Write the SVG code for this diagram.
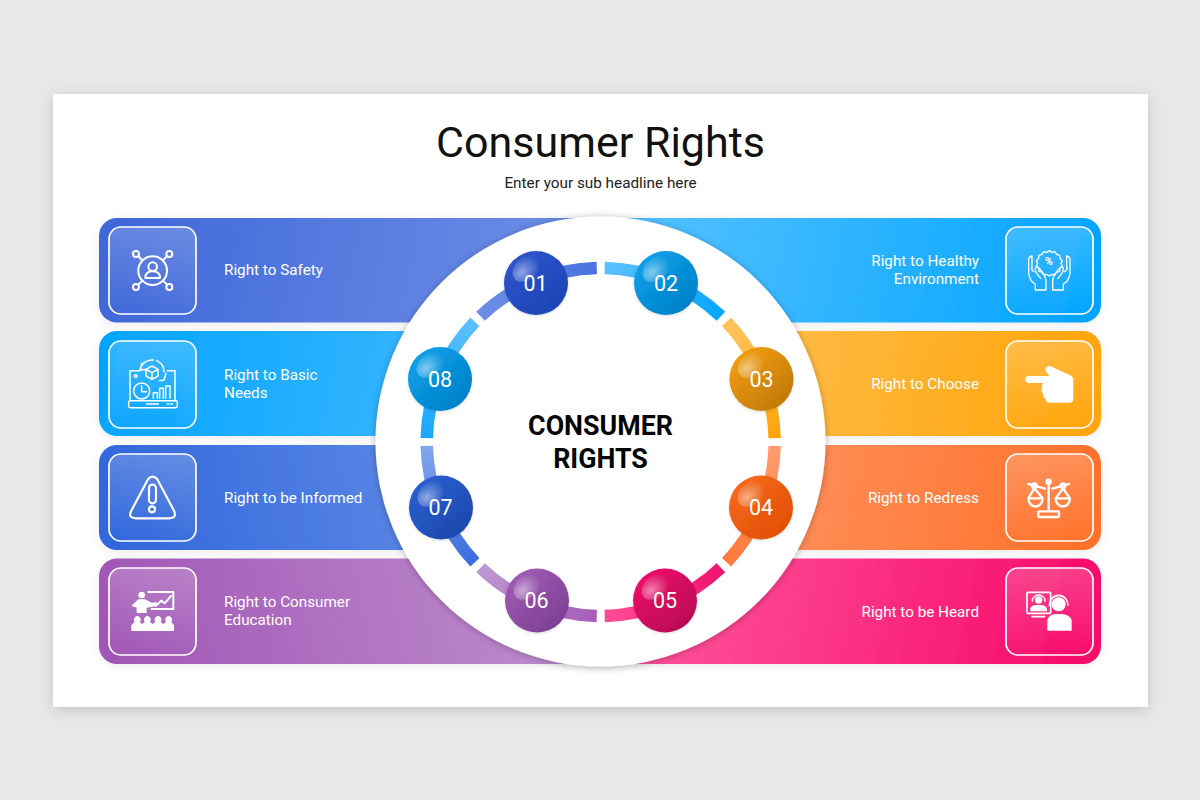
<svg xmlns="http://www.w3.org/2000/svg" width="1200" height="800" viewBox="0 0 1200 800">
<style>
text{font-family:Roboto,"Liberation Sans",sans-serif}
.lb{font-size:15.25px;fill:#fff}
.r{text-anchor:end}
.n{font-size:21.5px;fill:#fff;text-anchor:middle}
.box{fill:url(#boxg);stroke:#fff;stroke-width:1.7}
.band{filter:url(#bs)}
.seg{fill:none;stroke-width:12.5}
.ball{filter:url(#ballsh)}
.hl{fill:url(#hl)}
.ic{fill:none;stroke:#fff;stroke-width:6;stroke-linecap:round;stroke-linejoin:round}
.if{fill:#fff;stroke:none}
</style>
<defs>
<filter id="card" x="-5%" y="-5%" width="110%" height="112%"><feDropShadow dx="0" dy="3" stdDeviation="7" flood-color="#000" flood-opacity=".16"/></filter>
<filter id="bs" x="-3%" y="-10%" width="106%" height="125%"><feDropShadow dx="0" dy="2" stdDeviation="4" flood-color="#000" flood-opacity=".08"/></filter>
<filter id="cs" x="-10%" y="-10%" width="120%" height="120%"><feDropShadow dx="0" dy="1" stdDeviation="3.5" flood-color="#000" flood-opacity=".28"/></filter>
<filter id="ballsh" x="-20%" y="-20%" width="140%" height="140%"><feDropShadow dx="0" dy="1" stdDeviation="1.5" flood-color="#000" flood-opacity=".15"/></filter>
<linearGradient id="boxg" x1="0" y1="0" x2="0" y2="1"><stop offset="0" stop-color="#fff" stop-opacity=".2"/><stop offset="1" stop-color="#fff" stop-opacity="0"/></linearGradient>
<radialGradient id="hl" cx=".32" cy=".5" r=".68"><stop offset="0" stop-color="#fff" stop-opacity=".5"/><stop offset=".55" stop-color="#fff" stop-opacity=".2"/><stop offset="1" stop-color="#fff" stop-opacity="0"/></radialGradient>
<linearGradient id="b1" gradientUnits="userSpaceOnUse" x1="99" y1="218" x2="600" y2="322"><stop offset="0" stop-color="#3e66d8"/><stop offset="1" stop-color="#7092e8"/></linearGradient>
<linearGradient id="b8" gradientUnits="userSpaceOnUse" x1="99" y1="331" x2="600" y2="436"><stop offset="0" stop-color="#03a4ff"/><stop offset="1" stop-color="#52beff"/></linearGradient>
<linearGradient id="b7" gradientUnits="userSpaceOnUse" x1="99" y1="550" x2="600" y2="445"><stop offset="0" stop-color="#2f66db"/><stop offset="1" stop-color="#7298ea"/></linearGradient>
<linearGradient id="b6" gradientUnits="userSpaceOnUse" x1="99" y1="664" x2="600" y2="558"><stop offset="0" stop-color="#a055b5"/><stop offset="1" stop-color="#c192d0"/></linearGradient>
<linearGradient id="b2" gradientUnits="userSpaceOnUse" x1="1101" y1="322" x2="600" y2="218"><stop offset="0" stop-color="#00a4ff"/><stop offset="1" stop-color="#5ac3ff"/></linearGradient>
<linearGradient id="b3" gradientUnits="userSpaceOnUse" x1="1101" y1="436" x2="600" y2="331"><stop offset="0" stop-color="#ffa407"/><stop offset="1" stop-color="#ffc665"/></linearGradient>
<linearGradient id="b4" gradientUnits="userSpaceOnUse" x1="1101" y1="550" x2="600" y2="445"><stop offset="0" stop-color="#ff7028"/><stop offset="1" stop-color="#ffa077"/></linearGradient>
<linearGradient id="b5" gradientUnits="userSpaceOnUse" x1="1101" y1="664" x2="600" y2="558"><stop offset="0" stop-color="#f70869"/><stop offset="1" stop-color="#ff5ca0"/></linearGradient>
<linearGradient id="s1" gradientUnits="userSpaceOnUse" x1="604" y1="268" x2="721" y2="316"><stop offset="0" stop-color="#5cc2ff"/><stop offset="1" stop-color="#05a5ff"/></linearGradient>
<linearGradient id="s2" gradientUnits="userSpaceOnUse" x1="726" y1="322" x2="775" y2="438"><stop offset="0" stop-color="#ffc45f"/><stop offset="1" stop-color="#ffa40c"/></linearGradient>
<linearGradient id="s3" gradientUnits="userSpaceOnUse" x1="775" y1="446" x2="726" y2="562"><stop offset="0" stop-color="#ff9d70"/><stop offset="1" stop-color="#ff7a3c"/></linearGradient>
<linearGradient id="s4" gradientUnits="userSpaceOnUse" x1="721" y1="568" x2="605" y2="616"><stop offset="0" stop-color="#f0146e"/><stop offset="1" stop-color="#ff4c96"/></linearGradient>
<linearGradient id="s5" gradientUnits="userSpaceOnUse" x1="597" y1="616" x2="480" y2="568"><stop offset="0" stop-color="#a65cb8"/><stop offset="1" stop-color="#bd98d4"/></linearGradient>
<linearGradient id="s6" gradientUnits="userSpaceOnUse" x1="475" y1="562" x2="427" y2="446"><stop offset="0" stop-color="#3a6edf"/><stop offset="1" stop-color="#82a6eb"/></linearGradient>
<linearGradient id="s7" gradientUnits="userSpaceOnUse" x1="427" y1="438" x2="475" y2="322"><stop offset="0" stop-color="#18a7ff"/><stop offset="1" stop-color="#5cc0ff"/></linearGradient>
<linearGradient id="s8" gradientUnits="userSpaceOnUse" x1="480" y1="316" x2="597" y2="268"><stop offset="0" stop-color="#6c8fe7"/><stop offset="1" stop-color="#4a72e0"/></linearGradient>
<linearGradient id="c1" x1=".15" y1=".1" x2=".85" y2=".9"><stop offset="0" stop-color="#2f55cc"/><stop offset="1" stop-color="#1c44b4"/></linearGradient>
<linearGradient id="c2" x1=".15" y1=".1" x2=".85" y2=".9"><stop offset="0" stop-color="#0aa0e8"/><stop offset="1" stop-color="#0280c8"/></linearGradient>
<linearGradient id="c3" x1=".15" y1=".1" x2=".85" y2=".9"><stop offset="0" stop-color="#f09c10"/><stop offset="1" stop-color="#c07a05"/></linearGradient>
<linearGradient id="c4" x1=".15" y1=".1" x2=".85" y2=".9"><stop offset="0" stop-color="#f56a1e"/><stop offset="1" stop-color="#e24e02"/></linearGradient>
<linearGradient id="c5" x1=".15" y1=".1" x2=".85" y2=".9"><stop offset="0" stop-color="#ec0c68"/><stop offset="1" stop-color="#b80654"/></linearGradient>
<linearGradient id="c6" x1=".15" y1=".1" x2=".85" y2=".9"><stop offset="0" stop-color="#a05cb4"/><stop offset="1" stop-color="#7c3f94"/></linearGradient>
<linearGradient id="c7" x1=".15" y1=".1" x2=".85" y2=".9"><stop offset="0" stop-color="#2a5fd0"/><stop offset="1" stop-color="#1c48ac"/></linearGradient>
</defs>

<rect width="1200" height="800" fill="#e9e7e8"/>
<rect x="53" y="94" width="1095" height="613" fill="#fff" filter="url(#card)"/>
<text x="600.5" y="157" font-size="43" fill="#111" text-anchor="middle">Consumer Rights</text>
<text x="600.5" y="188" font-size="15.3" fill="#222" text-anchor="middle">Enter your sub headline here</text>

<g id="node-safety">
<rect class="band" x="99" y="218" width="520" height="104.500" rx="18" fill="url(#b1)"/>
<rect class="box" x="109" y="227" width="87" height="87" rx="12"/>
<text class="lb" x="224" y="275">Right to Safety</text>
<g class="ic" transform="translate(90 210) scale(.3333)">
<circle cx="188" cy="182" r="43"/><circle cx="138" cy="132" r="9"/><circle cx="238" cy="132" r="9"/><circle cx="138" cy="231" r="9"/><circle cx="238" cy="231" r="9"/>
<path d="M145 139 157 151M231 139 219 151M145 224 157 212M231 224 219 212"/>
<circle cx="188" cy="170" r="13"/><path d="M166 204q0-20 22-20t22 20z"/>
</g>
</g>

<g id="node-basic-needs">
<rect class="band" x="99" y="331" width="520" height="105" rx="18" fill="url(#b8)"/>
<rect class="box" x="109" y="341" width="87" height="87" rx="12"/>
<text class="lb" x="224" y="380">Right to Basic</text>
<text class="lb" x="224" y="398">Needs</text>
<g class="ic" transform="translate(90 210) scale(.3333)" style="stroke-width:4.500">
<path d="M120 572V482H150M232 482H255V572"/>
<rect x="116" y="572" width="146" height="21" rx="5"/><path d="M170 582H205M232 582H236M243 582H247"/>
<path d="M168 478 186 468 204 478V498L186 508 168 498zM168 478 186 488 204 478M186 488V508"/>
<path d="M150 480A36 36 0 0 1 190 450M155 460 152 480 172 478M222 485A36 36 0 0 0 200 452M208 512 222 510 228 490"/>
<circle cx="155" cy="543" r="24"/><path d="M155 528V545H170"/>
<path d="M190 565V548H202V565M209 565V535H220V565M227 565V528H240V565"/>
<circle cx="137" cy="498" r="4"/>
</g>
</g>

<g id="node-informed">
<rect class="band" x="99" y="445" width="520" height="105" rx="18" fill="url(#b7)"/>
<rect class="box" x="109" y="454" width="87" height="87" rx="12"/>
<text class="lb" x="224" y="503">Right to be Informed</text>
<g class="ic" transform="translate(90 440) scale(.3333)" style="stroke-width:6.500">
<path d="M174 118Q188 102 202 118L252 212Q262 234 238 235H138Q112 234 124 212z"/>
<rect x="177" y="134" width="21" height="56" rx="10"/>
<circle cx="186" cy="208" r="9"/>
</g>
</g>

<g id="node-education">
<rect class="band" x="99" y="558.500" width="520" height="105.500" rx="18" fill="url(#b6)"/>
<rect class="box" x="109" y="568" width="87" height="87" rx="12"/>
<text class="lb" x="224" y="607">Right to Consumer</text>
<text class="lb" x="224" y="625">Education</text>
<g transform="translate(90 440) scale(.3333)">
<circle class="if" cx="155" cy="465" r="10"/>
<path class="if" d="M124 497 145 478H165L185 488 200 486V498L170 503V519H140V503z"/>
<path class="ic" d="M175 456H250V507H185M198 497 214 482 224 490 243 468"/>
<path class="if" d="M124 573V556L134 546A10 11 0 1 1 150 546L156 552 164 546A10 11 0 1 1 180 546L188 552 196 546A10 11 0 1 1 212 546L220 552 228 546A10 11 0 1 1 244 546L252 556V573z"/>
</g>
</g>

<g id="node-healthy">
<rect class="band" x="581" y="218" width="520" height="104.500" rx="18" fill="url(#b2)"/>
<rect class="box" x="1006" y="227" width="87" height="87" rx="12"/>
<text class="lb r" x="979" y="266">Right to Healthy</text>
<text class="lb r" x="979" y="284">Environment</text>
<g class="ic" transform="translate(810 210) scale(.3333)" style="stroke-width:4">
<path d="M718 122l8 5 9-2 5 8 9 3 1 9 7 7-4 8 4 9-7 6-1 9-9 3-5 8-9-2-8 5-8-5-9 2-5-8-9-3-1-9-7-6 4-9-4-8 7-7 1-9 9-3 5-8 9 2z"/>
<path d="M666 138Q656 140 656 150V190Q660 215 676 222V240H708V212Q706 190 680 168Q672 175 680 190L692 205M666 138V180M672 185Q662 180 666 168"/>
<path d="M770 138Q780 140 780 150V190Q776 215 760 222V240H728V212Q730 190 756 168Q764 175 756 190L744 205M770 138V180M764 185Q774 180 770 168"/>
</g>
<text x="1049" y="264.500" font-size="10.500" font-weight="700" fill="#fff" text-anchor="middle">%</text>
</g>

<g id="node-choose">
<rect class="band" x="581" y="331" width="520" height="105" rx="18" fill="url(#b3)"/>
<rect class="box" x="1006" y="341" width="87" height="87" rx="12"/>
<text class="lb r" x="979" y="389">Right to Choose</text>
<path class="if" transform="translate(810 210) scale(.3333)" d="M656 498H718L706 482Q706 468 720 468L778 494Q790 498 790 510V566Q790 578 778 578H718Q708 578 708 568Q696 562 700 552Q692 544 696 534Q694 526 700 519H656Q646 518 646 508Q646 498 656 498z"/>
</g>

<g id="node-redress">
<rect class="band" x="581" y="445" width="520" height="105" rx="18" fill="url(#b4)"/>
<rect class="box" x="1006" y="454" width="87" height="87" rx="12"/>
<text class="lb r" x="979" y="503">Right to Redress</text>
<g class="ic" transform="translate(810 440) scale(.3333)" style="stroke-width:7">
<path d="M716 125V212M655 132 705 146M777 132 727 146"/>
<circle cx="716" cy="125" r="6"/><circle cx="673" cy="137" r="7"/><circle cx="759" cy="137" r="7"/>
<path d="M655 175H698M673 145 655 175A21 24 0 0 0 698 175L673 145M737 175H780M759 145 737 175A21 24 0 0 0 780 175L759 145"/>
<rect x="685" y="214" width="62" height="17" rx="2"/>
</g>
</g>

<g id="node-heard">
<rect class="band" x="581" y="558.500" width="520" height="105.500" rx="18" fill="url(#b5)"/>
<rect class="box" x="1006" y="568" width="87" height="87" rx="12"/>
<text class="lb r" x="979" y="617">Right to be Heard</text>
<g transform="translate(810 440) scale(.3333)">
<rect class="ic" x="651" y="457" width="71" height="63" rx="3" style="stroke-width:5"/>
<path class="ic" d="M666 530H704" style="stroke-width:5"/>
<circle class="if" cx="686" cy="480" r="11"/>
<path class="ic" d="M667 484A19 19 0 0 1 705 484" style="stroke-width:4"/>
<path class="if" d="M661 514V505Q665 496 678 495H694Q707 496 711 505V514z"/>
<circle class="if" cx="746" cy="493" r="21"/>
<path class="ic" d="M718 496A28 30 0 0 1 774 496" style="stroke-width:5"/>
<path class="if" d="M712 572V540Q716 525 735 522H757Q780 525 785 540V572z"/>
</g>
</g>

<circle cx="600.500" cy="441.500" r="225" fill="#fff" filter="url(#cs)"/>

<g id="connectors">
<path class="seg" stroke="url(#s1)" d="M604.650 268.050A174 174 0 0 1 720.900 316.200"/>
<path class="seg" stroke="url(#s2)" d="M726.500 321.800A174 174 0 0 1 774.650 438.050"/>
<path class="seg" stroke="url(#s3)" d="M774.650 445.950A174 174 0 0 1 726.500 562.200"/>
<path class="seg" stroke="url(#s4)" d="M720.900 567.800A174 174 0 0 1 604.650 615.950"/>
<path class="seg" stroke="url(#s5)" d="M596.750 615.950A174 174 0 0 1 480.500 567.800"/>
<path class="seg" stroke="url(#s6)" d="M474.900 562.200A174 174 0 0 1 426.750 445.950"/>
<path class="seg" stroke="url(#s7)" d="M426.750 438.050A174 174 0 0 1 474.900 321.800"/>
<path class="seg" stroke="url(#s8)" d="M480.500 316.200A174 174 0 0 1 596.750 268.050"/>
</g>

<g id="center-label" font-weight="700" font-size="26.800" fill="#050505" text-anchor="middle">
<text x="600.500" y="435">CONSUMER</text>
<text x="600.500" y="467.500">RIGHTS</text>
</g>

<g id="ball-01"><circle class="ball" cx="536" cy="283" r="32" fill="url(#c1)"/><ellipse class="hl" cx="526" cy="269" rx="15" ry="11" transform="rotate(-40 526 269)"/><text class="n" x="535.500" y="290.500">01</text></g>
<g id="ball-02"><circle class="ball" cx="666" cy="283" r="32" fill="url(#c2)"/><ellipse class="hl" cx="656" cy="269" rx="15" ry="11" transform="rotate(-40 656 269)"/><text class="n" x="666" y="290.500">02</text></g>
<g id="ball-03"><circle class="ball" cx="761.500" cy="379" r="32" fill="url(#c3)"/><ellipse class="hl" cx="751" cy="365" rx="15" ry="11" transform="rotate(-40 751 365)"/><text class="n" x="761.500" y="386.500">03</text></g>
<g id="ball-04"><circle class="ball" cx="761" cy="507.500" r="32" fill="url(#c4)"/><ellipse class="hl" cx="751" cy="494" rx="15" ry="11" transform="rotate(-40 751 494)"/><text class="n" x="761" y="515">04</text></g>
<g id="ball-05"><circle class="ball" cx="665" cy="600.500" r="32" fill="url(#c5)"/><ellipse class="hl" cx="655" cy="587" rx="15" ry="11" transform="rotate(-40 655 587)"/><text class="n" x="665" y="608">05</text></g>
<g id="ball-06"><circle class="ball" cx="537" cy="600.500" r="32" fill="url(#c6)"/><ellipse class="hl" cx="527" cy="587" rx="15" ry="11" transform="rotate(-40 527 587)"/><text class="n" x="536.500" y="608">06</text></g>
<g id="ball-07"><circle class="ball" cx="441" cy="507.500" r="32" fill="url(#c7)"/><ellipse class="hl" cx="431" cy="494" rx="15" ry="11" transform="rotate(-40 431 494)"/><text class="n" x="440.500" y="515">07</text></g>
<g id="ball-08"><circle class="ball" cx="440" cy="379" r="32" fill="url(#c2)"/><ellipse class="hl" cx="430" cy="365" rx="15" ry="11" transform="rotate(-40 430 365)"/><text class="n" x="440" y="386.500">08</text></g>
</svg>
